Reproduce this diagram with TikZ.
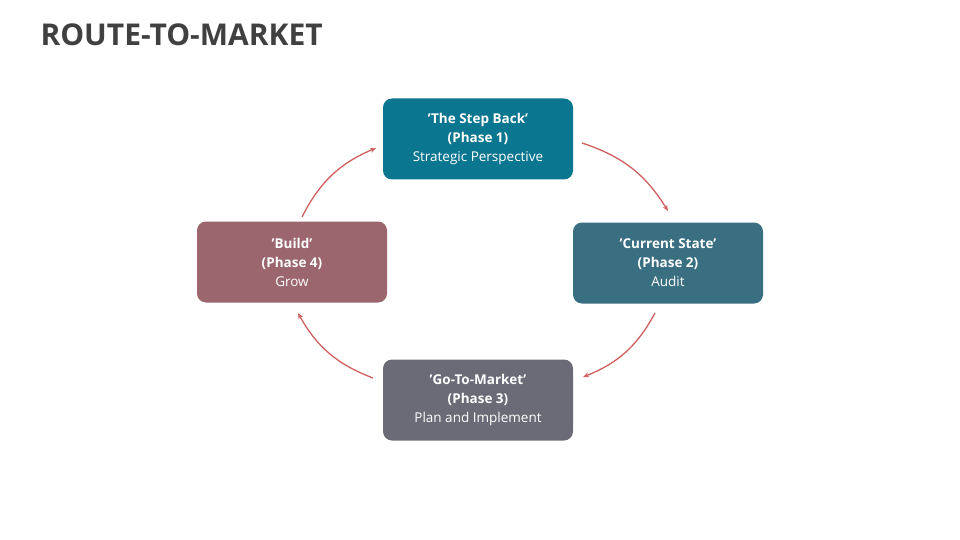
\documentclass[tikz,border=0pt]{standalone}
\usepackage{fontspec}
\setmainfont{Open Sans}
\usetikzlibrary{arrows.meta}
\definecolor{cA}{HTML}{0B7690}
\definecolor{cB}{HTML}{3A6F82}
\definecolor{cC}{HTML}{6B6B78}
\definecolor{cD}{HTML}{9B666E}
\definecolor{arr}{HTML}{D0605F}
\definecolor{ttl}{HTML}{404040}
\tikzset{phase/.style={rounded corners=9pt,minimum width=190pt,minimum height=81pt,text=white,align=center,font=\fontsize{13.5}{19}\selectfont},
conn/.style={draw=arr,line width=1.3pt,-{Stealth[length=6pt,width=5pt]}}}
\begin{document}
\begin{tikzpicture}[x=1pt,y=-1pt]
\useasboundingbox (0,0) rectangle (960,540);
\node[anchor=west,font=\fontsize{30}{34}\selectfont\bfseries,text=ttl] (t) at (37,35) {ROUTE-TO-MARKET};
\node[phase,fill=cA] (p1) at (478,139) {\textbf{'The Step Back'}\\\textbf{(Phase 1)}\\Strategic Perspective};
\node[phase,fill=cB] (p2) at (668,263) {\textbf{'Current State'}\\\textbf{(Phase 2)}\\Audit};
\node[phase,fill=cC] (p3) at (478,400) {\textbf{'Go-To-Market'}\\\textbf{(Phase 3)}\\Plan and Implement};
\node[phase,fill=cD] (p4) at (292,262) {\textbf{'Build'}\\\textbf{(Phase 4)}\\Grow};
\coordinate (a1) at (582,143); \coordinate (b1) at (668,211);
\coordinate (a2) at (655,313); \coordinate (b2) at (583,377);
\coordinate (a3) at (373,378); \coordinate (b3) at (298,313);
\coordinate (a4) at (302,217); \coordinate (b4) at (376,148);
\draw[conn] (a1) to[bend left=20] (b1);
\draw[conn] (a2) to[bend left=20] (b2);
\draw[conn] (a3) to[bend left=20] (b3);
\draw[conn] (a4) to[bend left=20] (b4);
\end{tikzpicture}
\end{document}
